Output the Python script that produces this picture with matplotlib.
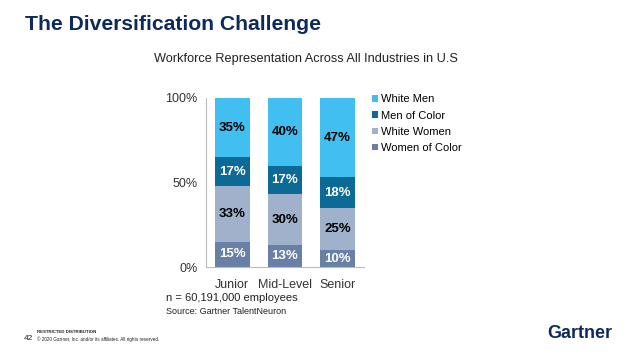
import matplotlib
matplotlib.use("Agg")
import matplotlib.pyplot as plt
import numpy as np

categories = ["Junior", "Mid-Level", "Senior"]
women_of_color = [15, 13, 10]
white_women = [33, 30, 25]
men_of_color = [17, 17, 18]
white_men = [35, 40, 47]
series_names = ["Women of Color", "White Women", "Men of Color", "White Men"]
y_ticks = [0, 50, 100]
y_tick_labels = ["0%", "50%", "100%"]

colors = ["#687FA6", "#A0B1CB", "#0B6A96", "#41BFF0"]
label_colors = ["white", "black", "white", "black"]

plt.rcParams['font.family'] = ['Liberation Sans', 'DejaVu Sans']

W, H = 638, 359
fig = plt.figure(figsize=(W / 100, H / 100), dpi=100)
ax = fig.add_axes([206 / W, 1 - 267 / H, (364 - 206) / W, (267 - 98) / H])

x = np.arange(len(categories))
bottom = np.zeros(len(categories))
handles = []
for vals, name, c, lc in zip([women_of_color, white_women, men_of_color, white_men],
                             series_names, colors, label_colors):
    vals = np.array(vals, dtype=float)
    b = ax.bar(x, vals, bottom=bottom, width=0.66, color=c, label=name, linewidth=0)
    handles.append(b)
    for xi, v, bt in zip(x, vals, bottom):
        ax.text(xi, bt + v / 2, f"{int(v)}%", ha="center", va="center",
                color=lc, fontsize=9.5, fontweight="bold")
    bottom += vals

ax.set_xlim(-0.5, 2.5)
ax.set_ylim(0, 100)
ax.set_yticks(y_ticks)
ax.set_yticklabels(y_tick_labels, fontsize=9, color="#333333")
ax.set_xticks(x)
ax.set_xticklabels(categories, fontsize=9, color="#333333")
ax.tick_params(axis="y", length=0, pad=6)
ax.tick_params(axis="x", length=0, pad=9)
for s in ["top", "right"]:
    ax.spines[s].set_visible(False)
for s in ["left", "bottom"]:
    ax.spines[s].set_color("#BBBBBB")
    ax.spines[s].set_linewidth(0.8)

leg = ax.legend(handles[::-1], series_names[::-1], loc="upper left",
                bbox_to_anchor=(368 / W, 1 - 90 / H), bbox_transform=fig.transFigure,
                frameon=False, fontsize=8, handlelength=0.5, handleheight=0.5,
                handletextpad=0.3, labelspacing=0.55, borderaxespad=0)

fig.text(25 / W, 1 - 25 / H, "The Diversification Challenge", fontsize=15.2,
         fontweight="bold", color="#0E2A5C", ha="left", va="center")
fig.text(306 / W, 1 - 59 / H, "Workforce Representation Across All Industries in U.S",
         fontsize=9.2, color="#222222", ha="center", va="center")
fig.text(166 / W, 1 - 298 / H, "n = 60,191,000 employees", fontsize=8,
         color="#222222", ha="left", va="center")
fig.text(166 / W, 1 - 312 / H, "Source: Gartner TalentNeuron", fontsize=6.5,
         color="#222222", ha="left", va="center")
fig.text(24 / W, 1 - 338 / H, "42", fontsize=6, color="#222222", ha="left", va="center")
fig.text(37 / W, 1 - 332 / H, "RESTRICTED DISTRIBUTION", fontsize=3.2, fontweight="bold",
         color="#222222", ha="left", va="center")
fig.text(37 / W, 1 - 339 / H, "\u00a9 2020 Gartner, Inc. and/or its affiliates. All rights reserved.",
         fontsize=3.3, color="#222222", ha="left", va="center")
fig.text(580 / W, 1 - 333 / H, "Gartner", fontsize=13, fontweight="bold",
         color="#0E2A5C", ha="center", va="center")

fig.savefig("out.png", dpi=100)
